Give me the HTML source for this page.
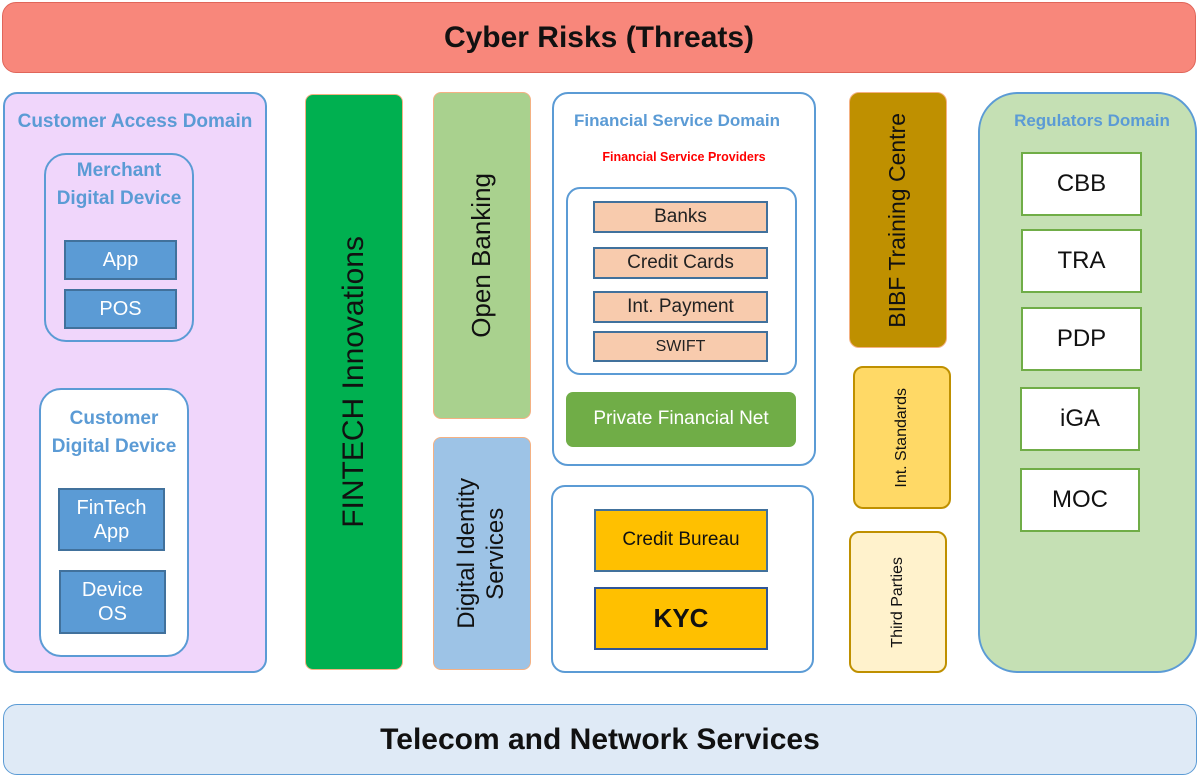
<!DOCTYPE html>
<html><head><meta charset="utf-8"><style>
body{margin:0;width:1200px;height:777px;background:#fff;position:relative;overflow:hidden;font-family:"Liberation Sans",sans-serif}
.b{position:absolute;box-sizing:border-box;display:flex;align-items:center;justify-content:center;text-align:center;line-height:1.2}
.v{writing-mode:vertical-rl;transform:rotate(180deg)}
.t{position:absolute;font-weight:bold;color:#5b9bd5;text-align:center;line-height:28px}
.bl{background:#5b9bd5;border:2px solid #41719c;color:#fff;font-size:20px}
.pk{background:#f8cbad;border:2px solid #41719c;color:#222;font-size:19px}
.rg{background:#fff;border:2px solid #70ad47;color:#111;font-size:24px}
</style></head><body>
<div class="b" style="left:2px;top:2px;width:1194px;height:71px;background:#f8877b;border:1px solid #e0665a;border-radius:14px;font-weight:bold;font-size:30px;color:#111">Cyber Risks (Threats)</div>
<div class="b" style="left:3px;top:704px;width:1194px;height:71px;background:#dfeaf6;border:1px solid #5b9bd5;border-radius:14px;font-weight:bold;font-size:30px;color:#111">Telecom and Network Services</div>

<div class="b" style="left:3px;top:92px;width:264px;height:581px;background:#f0d6fb;border:2px solid #5b9bd5;border-radius:14px"></div>
<div class="t" style="left:3px;top:108px;width:264px;font-size:19px">Customer Access Domain</div>
<div class="b" style="left:44px;top:153px;width:150px;height:189px;background:#f0d6fb;border:2px solid #5b9bd5;border-radius:22px"></div>
<div class="t" style="left:44px;top:157px;width:150px;font-size:19px">Merchant<br>Digital Device</div>
<div class="b bl" style="left:64px;top:240px;width:113px;height:40px">App</div>
<div class="b bl" style="left:64px;top:289px;width:113px;height:40px">POS</div>
<div class="b" style="left:39px;top:388px;width:150px;height:269px;background:#fff;border:2px solid #5b9bd5;border-radius:22px"></div>
<div class="t" style="left:39px;top:405px;width:150px;font-size:19px">Customer<br>Digital Device</div>
<div class="b bl" style="left:58px;top:488px;width:107px;height:63px">FinTech<br>App</div>
<div class="b bl" style="left:59px;top:570px;width:107px;height:64px">Device<br>OS</div>

<div class="b" style="left:305px;top:94px;width:98px;height:576px;background:#00b050;border:1px solid #f4b183;border-radius:8px;font-size:30px;color:#111"><span class="v">FINTECH Innovations</span></div>
<div class="b" style="left:433px;top:92px;width:98px;height:327px;background:#a9d18e;border:1px solid #f4b183;border-radius:8px;font-size:26px;color:#111"><span class="v">Open Banking</span></div>
<div class="b" style="left:433px;top:437px;width:98px;height:233px;background:#9dc3e6;border:1px solid #f4b183;border-radius:8px;font-size:24px;color:#111"><span class="v">Digital Identity<br>Services</span></div>

<div class="b" style="left:552px;top:92px;width:264px;height:374px;background:#fff;border:2px solid #5b9bd5;border-radius:16px"></div>
<div class="t" style="left:552px;top:107px;width:250px;font-size:17px">Financial Service Domain</div>
<div class="t" style="left:552px;top:143px;width:264px;font-size:12.5px;color:#f00">Financial Service Providers</div>
<div class="b" style="left:566px;top:187px;width:231px;height:188px;border:2px solid #5b9bd5;border-radius:14px"></div>
<div class="b pk" style="left:593px;top:201px;width:175px;height:32px">Banks</div>
<div class="b pk" style="left:593px;top:247px;width:175px;height:32px">Credit Cards</div>
<div class="b pk" style="left:593px;top:291px;width:175px;height:32px">Int. Payment</div>
<div class="b pk" style="left:593px;top:331px;width:175px;height:31px;font-size:16px">SWIFT</div>
<div class="b" style="left:566px;top:392px;width:230px;height:55px;background:#70ad47;border-radius:7px;color:#fff;font-size:19px">Private Financial Net</div>

<div class="b" style="left:551px;top:485px;width:263px;height:188px;background:#fff;border:2px solid #5b9bd5;border-radius:14px"></div>
<div class="b" style="left:594px;top:509px;width:174px;height:63px;background:#ffc000;border:2px solid #41719c;font-size:19px;color:#111">Credit Bureau</div>
<div class="b" style="left:594px;top:587px;width:174px;height:63px;background:#ffc000;border:2px solid #2f5597;font-size:26px;font-weight:bold;color:#111">KYC</div>

<div class="b" style="left:849px;top:92px;width:98px;height:256px;background:#bf9000;border:1px solid #f4b183;border-radius:10px;font-size:23px;color:#111"><span class="v">BIBF Training Centre</span></div>
<div class="b" style="left:853px;top:366px;width:98px;height:143px;background:#ffd966;border:2px solid #bf9000;border-radius:10px;font-size:16px;color:#111"><span class="v">Int. Standards</span></div>
<div class="b" style="left:849px;top:531px;width:98px;height:142px;background:#fff2cc;border:2px solid #bf9000;border-radius:10px;font-size:16px;color:#111"><span class="v">Third Parties</span></div>

<div class="b" style="left:978px;top:92px;width:219px;height:581px;background:#c5e0b4;border:2px solid #5b9bd5;border-radius:40px"></div>
<div class="t" style="left:978px;top:107px;width:228px;font-size:17px">Regulators Domain</div>
<div class="b rg" style="left:1021px;top:152px;width:121px;height:64px">CBB</div>
<div class="b rg" style="left:1021px;top:229px;width:121px;height:64px">TRA</div>
<div class="b rg" style="left:1021px;top:307px;width:121px;height:64px">PDP</div>
<div class="b rg" style="left:1020px;top:387px;width:120px;height:64px">iGA</div>
<div class="b rg" style="left:1020px;top:468px;width:120px;height:64px">MOC</div>
</body></html>
